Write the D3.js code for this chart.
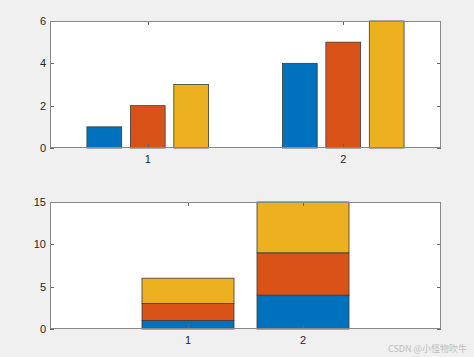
<!DOCTYPE html>
<html><head><meta charset="utf-8">
<script src="https://cdn.jsdelivr.net/npm/d3@7"></script>
<style>
html,body{margin:0;padding:0;background:#f0f0f0;}
svg{display:block;}
text{font-family:"Liberation Sans",Arial,sans-serif;}
</style></head>
<body><svg id="c" width="474" height="357"></svg>
<script>
// data
const categories = [1, 2];
const seriesA = [1, 4];
const seriesB = [2, 5];
const seriesC = [3, 6];
const colors = ["#0072BD", "#D95319", "#EDB120"];
const topYTicks = [0, 2, 4, 6];
const bottomYTicks = [0, 5, 10, 15];
const watermark = "CSDN @小怪物吹牛";

const series = [seriesA, seriesB, seriesC];
const svg = d3.select("#c");
const W = 474, H = 357;
svg.append("rect").attr("width", W).attr("height", H).attr("fill", "#f0f0f0");

function axesFrame(g, x, y, xTicks, yTicks) {
  const [x0, x1] = x.range();
  const [y0, y1] = y.range();
  g.append("rect").attr("x", x0).attr("y", y1).attr("width", x1 - x0).attr("height", y0 - y1)
    .attr("fill", "#fff");
  return () => {
    const tl = 4;
    const tg = g.append("g").attr("stroke", "#666").attr("stroke-width", 1);
    xTicks.forEach(t => {
      const px = Math.round(x(t)) + 0.5;
      tg.append("line").attr("x1", px).attr("x2", px).attr("y1", y0).attr("y2", y0 - tl);
      tg.append("line").attr("x1", px).attr("x2", px).attr("y1", y1).attr("y2", y1 + tl);
    });
    yTicks.forEach(t => {
      const py = Math.round(y(t)) + 0.5;
      tg.append("line").attr("x1", x0).attr("x2", x0 + tl).attr("y1", py).attr("y2", py);
      tg.append("line").attr("x1", x1).attr("x2", x1 - tl).attr("y1", py).attr("y2", py);
    });
    g.append("rect").attr("x", x0 + 0.5).attr("y", y1 + 0.5).attr("width", x1 - x0 - 1).attr("height", y0 - y1 - 1)
      .attr("fill", "none").attr("stroke", "#888").attr("stroke-width", 1);
    xTicks.forEach(t => {
      g.append("text").attr("x", x(t)).attr("y", y0 + 15).attr("text-anchor", "middle")
        .attr("font-size", 11).attr("fill", "#262626").text(t);
    });
    yTicks.forEach(t => {
      g.append("text").attr("x", x0 - 4).attr("y", y(t) + 4).attr("text-anchor", "end")
        .attr("font-size", 11).attr("fill", "#262626").text(t);
    });
  };
}

// Top grouped bar chart
{
  const x = d3.scaleLinear().domain([0.5, 2.5]).range([50, 441]);
  const y = d3.scaleLinear().domain([0, 6]).range([148, 21]);
  const g = svg.append("g");
  const finish = axesFrame(g, x, y, categories, topYTicks);
  const n = series.length;
  const groupW = Math.min(0.8, n / (n + 1.5));
  const slot = groupW / n;
  const bw = slot * 0.8;
  series.forEach((s, j) => {
    const off = -groupW / 2 + slot * (j + 0.5);
    g.selectAll(null).data(categories.map((c, i) => ({c, v: s[i]}))).enter().append("rect")
      .attr("x", d => x(d.c + off - bw / 2))
      .attr("width", d => x(d.c + off + bw / 2) - x(d.c + off - bw / 2))
      .attr("y", d => y(d.v))
      .attr("height", d => y(0) - y(d.v))
      .attr("fill", colors[j]).attr("stroke", "#3a3a3a").attr("stroke-width", 0.8);
  });
  finish();
}

// Bottom stacked bar chart
{
  const x = d3.scaleLinear().domain([-0.2, 3.2]).range([50, 441]);
  const y = d3.scaleLinear().domain([0, 15]).range([329, 202]);
  const g = svg.append("g");
  const finish = axesFrame(g, x, y, categories, bottomYTicks);
  const rows = categories.map((c, i) => ({c, a: seriesA[i], b: seriesB[i], cc: seriesC[i]}));
  const stack = d3.stack().keys(["a", "b", "cc"])(rows);
  const bw = 0.8;
  stack.forEach((layer, j) => {
    g.selectAll(null).data(layer).enter().append("rect")
      .attr("x", d => x(d.data.c - bw / 2))
      .attr("width", d => x(d.data.c + bw / 2) - x(d.data.c - bw / 2))
      .attr("y", d => y(d[1]))
      .attr("height", d => y(d[0]) - y(d[1]))
      .attr("fill", colors[j]).attr("stroke", "#3a3a3a").attr("stroke-width", 0.8);
  });
  finish();
}

svg.append("text").attr("x", 467).attr("y", 352).attr("text-anchor", "end")
  .attr("font-size", 9).attr("fill", "#bdbdbd")
  .style("font-family", "'Noto Sans CJK SC','Liberation Sans',sans-serif")
  .text(watermark);
</script></body></html>
